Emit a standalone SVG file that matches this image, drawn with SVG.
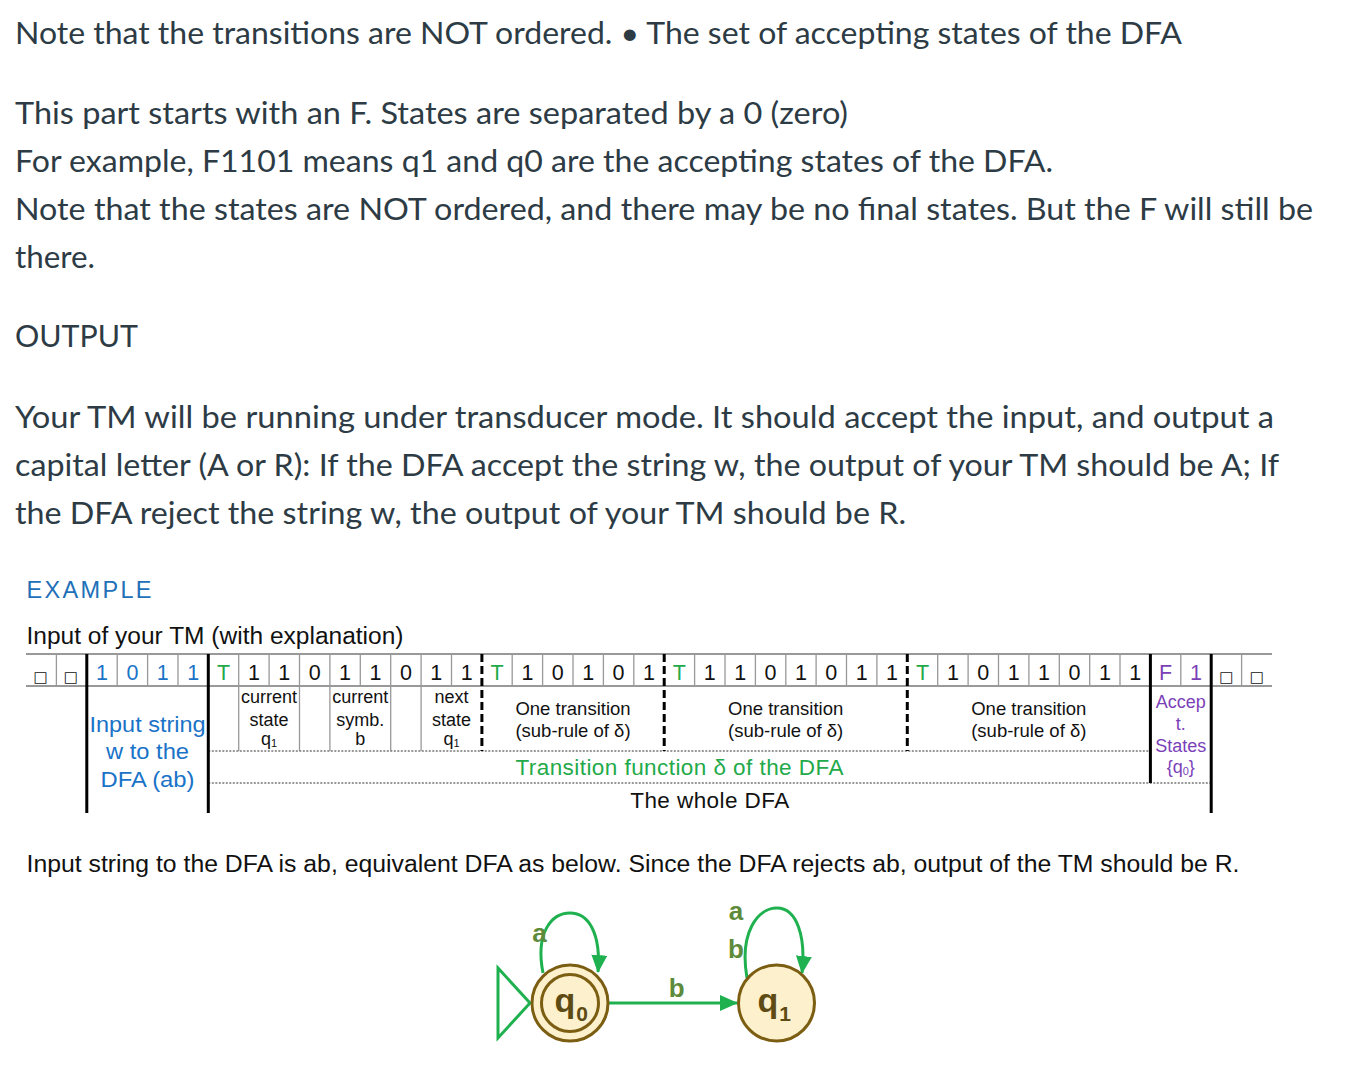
<svg xmlns="http://www.w3.org/2000/svg" width="1352" height="1084" viewBox="0 0 1352 1084">
<style>
.p{font-family:Lato,"Liberation Sans",sans-serif;font-size:30px;fill:#2d3b45}
.h{font-family:"Liberation Sans",Arial,sans-serif;fill:#111}
.d{font-family:"Liberation Sans",Arial,sans-serif;font-size:21.5px;text-anchor:middle;fill:#111}
.bl{fill:#1a73c8}.gr{fill:#22aa4a}.pu{fill:#7b3fb8}
.sq{font-family:"DejaVu Sans",sans-serif;font-size:15px;text-anchor:middle;fill:#111}
.s{font-family:"Liberation Sans",Arial,sans-serif;font-size:18px;text-anchor:middle;fill:#111}
.t{font-family:"Liberation Sans",Arial,sans-serif;font-size:18.5px;text-anchor:middle;fill:#111}
.cell{stroke:#999;stroke-width:1.3;fill:none}
.edge{stroke:#999;stroke-width:2;fill:none}
.thick{stroke:#000;stroke-width:3;fill:none}
.dash{stroke:#000;stroke-width:3;stroke-dasharray:8 4;fill:none}
.dot{stroke:#777;stroke-width:1.3;stroke-dasharray:2 1.5;fill:none}
.st{fill:#fdf0cd;stroke:#7b5e12;stroke-width:3}
.sl{font-family:"Liberation Sans",Arial,sans-serif;font-weight:bold;fill:#5e4b14}
.lbl{font-family:"Liberation Sans",Arial,sans-serif;font-weight:bold;font-size:26px;fill:#5d8b3b;text-anchor:middle}
.ar{stroke:#1fb14f;stroke-width:3;fill:none}
</style>
<defs>
<marker id="ah" viewBox="0 0 18 16" refX="17" refY="8" markerWidth="18" markerHeight="16" markerUnits="userSpaceOnUse" orient="auto">
<path d="M0,0 L18,8 L0,16 Z" fill="#1fb14f"/>
</marker>
</defs>
<rect width="1352" height="1084" fill="#fff"/>

<g id="text">
<text class="p" x="15" y="44" textLength="1167" lengthAdjust="spacingAndGlyphs">Note that the transitions are NOT ordered. • The set of accepting states of the DFA</text>
<text class="p" x="15" y="124" textLength="833" lengthAdjust="spacingAndGlyphs">This part starts with an F. States are separated by a 0 (zero)</text>
<text class="p" x="15" y="172" textLength="1038" lengthAdjust="spacingAndGlyphs">For example, F1101 means q1 and q0 are the accepting states of the DFA.</text>
<text class="p" x="15" y="220" textLength="1298" lengthAdjust="spacingAndGlyphs">Note that the states are NOT ordered, and there may be no final states. But the F will still be</text>
<text class="p" x="15" y="268" textLength="80" lengthAdjust="spacingAndGlyphs">there.</text>
<text class="p" x="15" y="347" textLength="123" lengthAdjust="spacingAndGlyphs">OUTPUT</text>
<text class="p" x="15" y="428" textLength="1259" lengthAdjust="spacingAndGlyphs">Your TM will be running under transducer mode. It should accept the input, and output a</text>
<text class="p" x="15" y="476" textLength="1264" lengthAdjust="spacingAndGlyphs">capital letter (A or R): If the DFA accept the string w, the output of your TM should be A; If</text>
<text class="p" x="15" y="524" textLength="891" lengthAdjust="spacingAndGlyphs">the DFA reject the string w, the output of your TM should be R.</text>
<text class="h" x="26.5" y="597.5" font-size="23.5" style="fill:#2270b8" textLength="125">EXAMPLE</text>
<text class="h" x="26.5" y="643.5" font-size="23" textLength="377" lengthAdjust="spacingAndGlyphs">Input of your TM (with explanation)</text>
<text class="h" x="26.5" y="871.5" font-size="23" textLength="1213" lengthAdjust="spacingAndGlyphs">Input string to the DFA is ab, equivalent DFA as below. Since the DFA rejects ab, output of the TM should be R.</text>
</g>

<g id="tape">
<path class="edge" d="M26 654H1272M26 686H1272"/>
<path class="cell" d="M56.4 654V686M117.2 654V686M147.6 654V686M178 654V686M238.7 654V686M269.1 654V686M299.5 654V686M329.9 654V686M360.3 654V686M390.7 654V686M421.1 654V686M451.5 654V686M512.2 654V686M542.6 654V686M573 654V686M603.4 654V686M633.8 654V686M694.6 654V686M725 654V686M755.4 654V686M785.8 654V686M816.1 654V686M846.5 654V686M876.9 654V686M937.7 654V686M968.1 654V686M998.5 654V686M1028.9 654V686M1059.3 654V686M1089.7 654V686M1120 654V686M1180.8 654V686M1241.6 654V686"/>
<path class="cell" d="M238.7 686V751M299.5 686V751M329.9 686V751M390.7 686V751M421.1 686V751"/>
<path class="dot" d="M208.3 751H1150.4M208.3 783H1211.2"/>
<path class="thick" d="M86.8 654V813M208.3 654V813M1150.4 654V783M1211.2 654V813"/>
<path class="dash" d="M481.9 654V751M664.2 654V751M907.3 654V751"/>
<text class="sq" x="40.5" y="681.5">□</text>
<text class="sq" x="70.9" y="681.5">□</text>
<text class="sq" x="1226.4" y="681.5">□</text>
<text class="sq" x="1256.8" y="681.5">□</text>
<g class="d">
<text class="bl" x="102" y="679.5">1</text><text class="bl" x="132.4" y="679.5">0</text><text class="bl" x="162.8" y="679.5">1</text><text class="bl" x="193.2" y="679.5">1</text>
<text class="gr" x="223.5" y="679.5">T</text>
<text x="253.9" y="679.5">1</text><text x="284.3" y="679.5">1</text><text x="314.7" y="679.5">0</text><text x="345.1" y="679.5">1</text><text x="375.5" y="679.5">1</text><text x="405.9" y="679.5">0</text><text x="436.3" y="679.5">1</text><text x="466.7" y="679.5">1</text>
<text class="gr" x="497.1" y="679.5">T</text>
<text x="527.4" y="679.5">1</text><text x="557.8" y="679.5">0</text><text x="588.2" y="679.5">1</text><text x="618.6" y="679.5">0</text><text x="649" y="679.5">1</text>
<text class="gr" x="679.4" y="679.5">T</text>
<text x="709.8" y="679.5">1</text><text x="740.2" y="679.5">1</text><text x="770.6" y="679.5">0</text><text x="801" y="679.5">1</text><text x="831.3" y="679.5">0</text><text x="861.7" y="679.5">1</text><text x="892.1" y="679.5">1</text>
<text class="gr" x="922.5" y="679.5">T</text>
<text x="952.9" y="679.5">1</text><text x="983.3" y="679.5">0</text><text x="1013.7" y="679.5">1</text><text x="1044.1" y="679.5">1</text><text x="1074.5" y="679.5">0</text><text x="1104.9" y="679.5">1</text><text x="1135.2" y="679.5">1</text>
<text class="pu" x="1165.6" y="679.5">F</text><text class="pu" x="1196" y="679.5">1</text>
</g>
</g>

<g id="annotations">
<text class="s" x="269.1" y="703">current</text>
<text class="s" x="269.1" y="726">state</text>
<text class="s" x="269.1" y="745">q<tspan font-size="11" dy="2">1</tspan></text>
<text class="s" x="360.3" y="703">current</text>
<text class="s" x="360.3" y="726">symb.</text>
<text class="s" x="360.3" y="745">b</text>
<text class="s" x="451.5" y="703">next</text>
<text class="s" x="451.5" y="726">state</text>
<text class="s" x="451.5" y="745">q<tspan font-size="11" dy="2">1</tspan></text>
<text class="t" x="573" y="715">One transition</text>
<text class="t" x="573" y="737">(sub-rule of δ)</text>
<text class="t" x="785.7" y="715">One transition</text>
<text class="t" x="785.7" y="737">(sub-rule of δ)</text>
<text class="t" x="1028.8" y="715">One transition</text>
<text class="t" x="1028.8" y="737">(sub-rule of δ)</text>
<text class="h" x="679.4" y="775" font-size="22.5" text-anchor="middle" style="fill:#22aa4a" textLength="328">Transition function δ of the DFA</text>
<text class="h" x="709.7" y="808" font-size="22.5" text-anchor="middle" textLength="159">The whole DFA</text>
<text class="h" x="147.5" y="731.7" font-size="22" text-anchor="middle" style="fill:#1a73c8" textLength="116" lengthAdjust="spacingAndGlyphs">Input string</text>
<text class="h" x="147.5" y="758.5" font-size="22" text-anchor="middle" style="fill:#1a73c8" textLength="83" lengthAdjust="spacingAndGlyphs">w to the</text>
<text class="h" x="147.5" y="786.5" font-size="22" text-anchor="middle" style="fill:#1a73c8" textLength="94" lengthAdjust="spacingAndGlyphs">DFA (ab)</text>
<text class="s" x="1180.8" y="708" style="fill:#7b3fb8">Accep</text>
<text class="s" x="1180.8" y="730" style="fill:#7b3fb8">t.</text>
<text class="s" x="1180.8" y="751.5" style="fill:#7b3fb8">States</text>
<text class="s" x="1180.8" y="773" style="fill:#7b3fb8">{q<tspan font-size="11" dy="2">0</tspan><tspan dy="-2">}</tspan></text>
</g>

<g id="connectors">
<polygon class="ar" points="498,968 530,1003 498,1038"/>
<path class="ar" d="M608,1003 H737" marker-end="url(#ah)"/>
<path class="ar" d="M543,973 C535,932 552,913 570,913 C589,913 601,934 598,972" marker-end="url(#ah)"/>
<path class="ar" d="M747,978 C739,932 758,908 777,908 C797,908 806,937 802,973" marker-end="url(#ah)"/>
<text class="lbl" x="539.5" y="941.7">a</text>
<text class="lbl" x="676.7" y="996.7">b</text>
<text class="lbl" x="736" y="920">a</text>
<text class="lbl" x="736" y="958.3">b</text>
</g>

<g id="q0">
<circle class="st" cx="570" cy="1003" r="38"/>
<circle class="st" cx="570" cy="1003" r="28.5"/>
<text class="sl" x="565" y="1012" font-size="34" text-anchor="middle">q</text>
<text class="sl" x="582" y="1021" font-size="21" text-anchor="middle">0</text>
</g>
<g id="q1">
<circle class="st" cx="776.5" cy="1003" r="38"/>
<text class="sl" x="768" y="1012" font-size="34" text-anchor="middle">q</text>
<text class="sl" x="785" y="1021" font-size="21" text-anchor="middle">1</text>
</g>
</svg>
